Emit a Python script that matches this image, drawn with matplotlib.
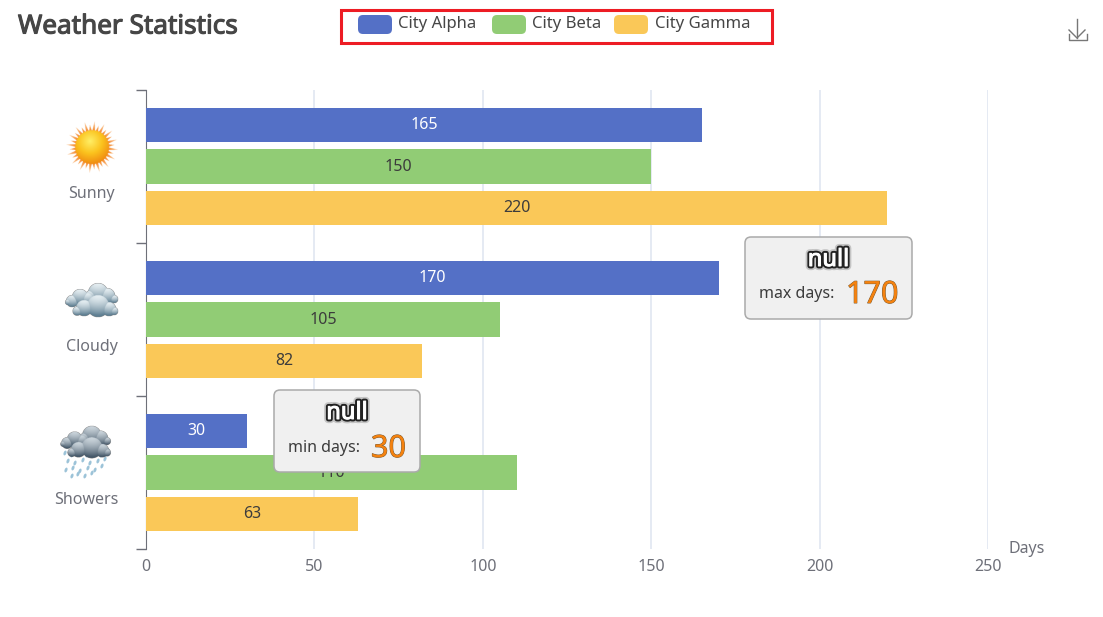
import numpy as np
import matplotlib
matplotlib.use('Agg')
import matplotlib.pyplot as plt
from matplotlib.colors import to_rgb
from matplotlib.patches import Ellipse, FancyBboxPatch, Rectangle
import matplotlib.patheffects as pe

plt.rcParams['font.family'] = ['Noto Sans', 'DejaVu Sans']

# dados
categorias = ['Sunny', 'Cloudy', 'Showers']
cidades = ['City Alpha', 'City Beta', 'City Gamma']
alpha = [165, 170, 30]
beta = [150, 105, 110]
gamma = [220, 82, 63]
x_ticks = [0, 50, 100, 150, 200, 250]
cores = ['#5470C6', '#91CC75', '#FAC858']
cor_rotulo = ['white', '#3c3c3c', '#3c3c3c']
cinza = '#6E7079'
L, R, T, B = 146.0, 988.3, 90.0, 549.0
W, H = 1103, 617

fig = plt.figure(figsize=(W / 100, H / 100), dpi=100)
ax = fig.add_axes([L / W, 1 - B / H, (R - L) / W, (B - T) / H])

series = [alpha, beta, gamma]
offs = [-0.271, 0, 0.271]
for s, off, c, cr in zip(series, offs, cores, cor_rotulo):
    y = np.arange(len(categorias)) + off
    ax.barh(y, s, height=0.226, color=c, zorder=3)
    for yi, v in zip(y, s):
        ax.text(v / 2, yi, str(v), ha='center', va='center', color=cr, fontsize=11.5, zorder=4)

ax.set_xlim(0, 250)
ax.set_ylim(2.5, -0.5)
ax.set_xticks(x_ticks)
ax.set_yticks([-0.5, 0.5, 1.5, 2.5])
ax.set_yticklabels([])
ax.grid(axis='x', color='#E0E6F1', lw=1.2, zorder=0)
ax.tick_params(axis='x', length=0, labelsize=11.5, labelcolor=cinza, pad=7)
ax.tick_params(axis='y', length=7, width=1, color=cinza)
for lado in ['top', 'right', 'bottom']:
    ax.spines[lado].set_visible(False)
ax.spines['left'].set_color(cinza)

# camada em pixels para titulo, legenda, icones e caixas
ov = fig.add_axes([0, 0, 1, 1], zorder=5)
ov.axis('off')

ov.text(18, 27, 'Weather Statistics', fontsize=18.8, color='#464646', ha='left', va='center',
        path_effects=[pe.withStroke(linewidth=0.8, foreground='#464646')])

# legenda
ov.add_patch(Rectangle((340.5, 10), 431, 33, fill=False, ec='#ED1C24', lw=2.2))
for xb, xt, nome, c in zip([358, 492, 614], [398, 532, 655], cidades, cores):
    ov.add_patch(FancyBboxPatch((xb + 4, 15 + 4), 26, 11, boxstyle='round,pad=4,rounding_size=5', fc=c, ec='none'))
    ov.text(xt, 24.5, nome, fontsize=12, color='#464646', ha='left', va='center')

# icone de download
ov.plot([1077, 1077], [19, 38], color='#777777', lw=1.0)
ov.plot([1069, 1077, 1085], [30, 38, 30], color='#777777', lw=1.0)
ov.plot([1068.5, 1068.5, 1086.5, 1086.5], [34, 39.5, 39.5, 34], color='#777777', lw=1.0)

# nomes das categorias
for xc, yc, nome in zip([91.5, 91.5, 86], [194, 347, 500], categorias):
    ov.text(xc, yc, nome, fontsize=11.5, color=cinza, ha='center', va='center')

ov.text(1008, 549, 'Days', fontsize=11.5, color=cinza, ha='left', va='center')


def mistura(c1, c2, t):
    c1, c2 = np.array(to_rgb(c1)), np.array(to_rgb(c2))
    t = np.clip(t, 0, 1)[..., None]
    return c1 * (1 - t) + c2 * t


def sol(cx, cy):
    xs = np.arange(cx - 28, cx + 28, 0.25)
    ys = np.arange(cy - 28, cy + 28, 0.25)
    X, Y = np.meshgrid(xs, ys)
    r = np.hypot(X - cx, Y - cy)
    th = np.arctan2(Y - cy, X - cx)
    # raios: 32 pontas, alternando longas e curtas
    n = 32
    fase = (th / (2 * np.pi) * n) % 1
    tri = 1 - np.abs(fase * 2 - 1)
    longa = (np.floor((th / (2 * np.pi) % 1) * n).astype(int) % 2 == 0)
    alcance = 16 + tri ** 1.5 * np.where(longa, 10, 6.5)
    img = np.zeros(X.shape + (4,))
    img[..., :3] = mistura('#F4811F', '#FBC99A', (r - 16) / 9)
    img[..., 3] = (r < alcance) * 0.95
    d = np.hypot(X - (cx - 2), Y - (cy - 6)) / 22
    disco = r < 17
    cor = np.where((d < 0.55)[..., None], mistura('#FFEF66', '#FBC31E', d / 0.55), mistura('#FBC31E', '#F08A10', (d - 0.55) / 0.5))
    img[disco, :3] = cor[disco]
    img[disco, 3] = 1
    ov.imshow(img, extent=[xs[0], xs[-1], ys[-1], ys[0]], aspect='auto', zorder=2)


def nuvem(x0, y0, esc, claro, escuro):
    xs = np.arange(x0 - 32, x0 + 32, 0.25)
    ys = np.arange(y0 - 24, y0 + 24, 0.25)
    X, Y = np.meshgrid(xs, ys)
    img = np.zeros(X.shape + (4,))
    # tres nuvens: fundo, esquerda e frente
    grupos = [[(6, -6, 10), (15, -3, 8), (22, 0, 4), (-1, -3, 6)],
              [(-12, -2, 8), (-20, 2, 6), (-5, 0, 6), (-24, 3, 3)],
              [(6, 7, 11), (-8, 9, 8), (17, 10, 7), (-15, 12, 4.5), (22, 12, 4)]]
    for grupo in grupos:
        alt = np.zeros(X.shape)
        luz = np.zeros(X.shape)
        for dx, dy, rr in grupo:
            cx, cy, rr = x0 + dx * esc, y0 + dy * esc, rr * esc
            d2 = (X - cx) ** 2 + (Y - cy) ** 2
            h = np.sqrt(np.clip(1 - d2 / rr ** 2, 0, 1))
            m = h > alt
            alt[m] = h[m]
            luz[m] = (0.5 - 0.6 * (Y - (cy - 0.25 * rr)) / rr + 0.25 * h)[m]
        dentro = alt > 0
        cor = mistura(escuro, claro, luz)
        img[dentro, :3] = cor[dentro]
        img[dentro, 3] = 1
    ov.imshow(img, extent=[xs[0], xs[-1], ys[-1], ys[0]], aspect='auto', zorder=3)


sol(92, 147)
nuvem(92, 299, 1.0, '#E4EDF1', '#5F7F92')
nuvem(86, 441, 0.95, '#C9D3DA', '#46596A')

# pingos de chuva
gotas_x = [65, 72, 79, 87, 94, 101, 108, 68, 75, 83, 90, 98, 105, 66, 73, 80, 88, 95, 102, 72, 78, 85, 92]
gotas_y = [453, 455, 452, 455, 453, 455, 451, 461, 463, 460, 463, 461, 459, 470, 468, 471, 468, 470, 466, 476, 474, 476, 473]
for gx, gy in zip(gotas_x, gotas_y):
    ov.add_patch(Ellipse((gx, gy), 2.8, 5, angle=20, fc='#9CC3D8', ec='none', zorder=1))


def caixa(x0, y0, x1, y1, rotulo, valor, xr, xv, yl):
    ov.add_patch(FancyBboxPatch((x0 + 6, y0 + 6), x1 - x0 - 12, y1 - y0 - 12, boxstyle='round,pad=6,rounding_size=6',
                                fc='#F0F0F0', ec='#AAAAAA', lw=1.1, zorder=4))
    ov.text((x0 + x1) / 2, y0 + 23, 'null', fontsize=17, color='white', ha='center', va='center', zorder=5,
            path_effects=[pe.withStroke(linewidth=6, foreground='#999999', alpha=0.5),
                          pe.withStroke(linewidth=3.5, foreground='#222222'),
                          pe.withStroke(linewidth=0.7, foreground='white')])
    ov.text(xr, yl + 2, rotulo, fontsize=11.5, color='#3c3c3c', ha='left', va='center', zorder=5)
    ov.text(xv, yl + 3, valor, fontsize=22, color='#F5820F', ha='left', va='center', zorder=5,
            path_effects=[pe.withStroke(linewidth=0.7, foreground='#7a5a30')])


caixa(745, 237, 912, 319, 'max days:', '170', 759, 846, 292)
caixa(274, 390, 420, 472, 'min days:', '30', 288, 371, 446)

ov.set_xlim(0, W)
ov.set_ylim(H, 0)

plt.savefig('out.png', dpi=100)
